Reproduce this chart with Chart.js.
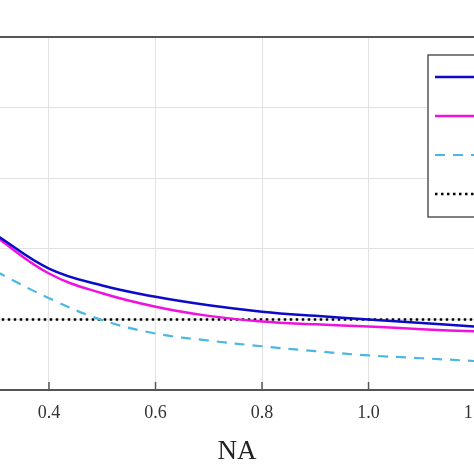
<!DOCTYPE html>
<html><head><script src="https://cdn.jsdelivr.net/npm/chart.js@4"></script>
<style>html,body{margin:0;padding:0;background:#fff}#w{width:474px;height:474px}</style></head>
<body><div id="w"><canvas id="c"></canvas></div>
<script>
const naValues=[0.3,0.4,0.5,0.6,0.7,0.8,0.9,1.0,1.1,1.2];
const seriesA=[2.2,1.72,1.48,1.32,1.2,1.11,1.05,1.0,0.95,0.9];
const seriesB=[2.17,1.65,1.37,1.18,1.05,0.97,0.93,0.9,0.86,0.83];
const seriesC=[1.68,1.30,0.99,0.80,0.70,0.62,0.55,0.49,0.45,0.41];
const seriesD=[1,1,1,1,1,1,1,1,1,1];
const xTicks=[0.4,0.6,0.8,1.0,1.2];
const pts=a=>a.map((v,i)=>({x:naValues[i],y:v}));
const deco={id:'deco',afterDraw(ch){const c=ch.ctx,a=ch.chartArea,x=ch.scales.x;
c.save();c.strokeStyle='#555';c.lineWidth=2;c.beginPath();c.moveTo(a.left,a.top);c.lineTo(a.right,a.top);c.stroke();
c.lineWidth=1.5;xTicks.forEach(t=>{const px=x.getPixelForValue(t);c.beginPath();c.moveTo(px,a.bottom);c.lineTo(px,a.bottom-8);c.stroke();});
c.fillStyle='#fff';c.strokeStyle='#555';c.lineWidth=1.5;c.fillRect(428,55,60,162);c.strokeRect(428,55,60,162);
ch.data.datasets.forEach((d,i)=>{const y=77+i*39;c.strokeStyle=d.borderColor;c.lineWidth=d.borderWidth;c.setLineDash(d.borderDash||[]);c.beginPath();c.moveTo(435,y);c.lineTo(480,y);c.stroke();});
c.restore();}};
new Chart(document.getElementById('c'),{type:'line',
data:{datasets:[
{data:pts(seriesA),borderColor:'#0a0ac8',borderWidth:2.5,tension:0.4},
{data:pts(seriesB),borderColor:'#f010e0',borderWidth:2.5,tension:0.4},
{data:pts(seriesC),borderColor:'#4ab8e0',borderWidth:2.2,borderDash:[10,8],tension:0.4},
{data:pts(seriesD),borderColor:'#000',borderWidth:2.5,borderDash:[2.5,3.5],tension:0}]},
options:{responsive:true,maintainAspectRatio:false,animation:false,events:[],
layout:{padding:{top:37,left:0,right:0,bottom:6}},
elements:{point:{radius:0}},
plugins:{legend:{display:false},tooltip:{enabled:false}},
scales:{
x:{type:'linear',min:0.308,max:1.198,afterBuildTicks(s){s.ticks=xTicks.map(v=>({value:v}));},
afterFit(s){s.paddingRight=0;s.paddingLeft=0;},
grid:{color:'#e2e2e2',drawTicks:false},border:{color:'#555',width:2},
ticks:{padding:12,color:'#333',font:{family:'Liberation Serif',size:18},callback:v=>v.toFixed(1)},
title:{display:true,text:'NA',color:'#222',font:{family:'Liberation Serif',size:27},padding:{top:0,bottom:0}}},
y:{min:0,max:5,afterFit(s){s.width=0;},ticks:{display:false,stepSize:1},grid:{color:'#e2e2e2',drawTicks:false},border:{display:false}}}},
plugins:[deco]});
</script></body></html>
